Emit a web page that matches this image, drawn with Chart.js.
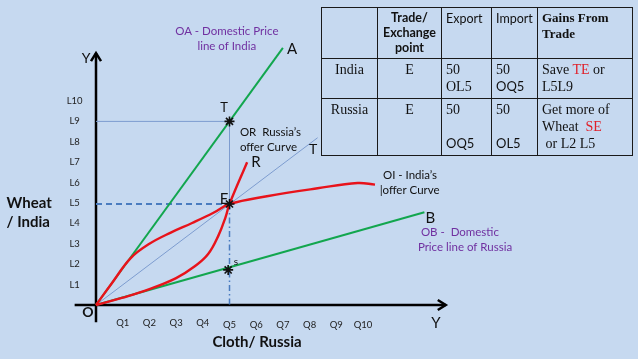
<!DOCTYPE html>
<html>
<head>
<meta charset="utf-8">
<script src="https://cdn.jsdelivr.net/npm/chart.js@4/dist/chart.umd.min.js"></script>
<style>
  html, body { margin:0; padding:0; background:#c6d9f0; }
  #wrap { position:relative; width:638px; height:359px; overflow:hidden; background:#c6d9f0; }
  canvas { position:absolute; left:0; top:0; }
  table { position:absolute; left:321px; top:7px; border-collapse:collapse; width:312px; height:148px; font-family:"Liberation Serif", serif; font-size:14px; color:#111; }
  td { border:1.6px solid #1a1a1a; vertical-align:top; padding:2px 4px; line-height:17px; }
  .h { font-family:Lato, sans-serif; font-size:12.5px; }
  .hb { font-family:Lato, sans-serif; font-weight:bold; font-size:12.5px; text-align:center; line-height:15px; }
  .gs { font-weight:bold; font-size:13px; line-height:16px; }
  .c { text-align:center; }
  .sans { font-family:Lato, sans-serif; font-size:13px; }
  .red { color:#e0202a; }
</style>
</head>
<body>
<div id="wrap">
<canvas id="c" width="638" height="359"></canvas>
<table>
  <tr style="height:51px">
    <td style="width:47px"></td>
    <td class="hb" style="width:55px">Trade/<br>Exchange<br>point</td>
    <td class="h" style="width:41px">Export</td>
    <td class="h" style="width:37px">Import</td>
    <td class="gs">Gains From<br>Trade</td>
  </tr>
  <tr style="height:40px">
    <td class="c">India</td>
    <td class="c">E</td>
    <td>50<br>OL5</td>
    <td>50<br><span class="sans">OQ5</span></td>
    <td>Save <span class="red">TE</span> or<br>L5L9</td>
  </tr>
  <tr style="height:57px">
    <td class="c">Russia</td>
    <td class="c">E</td>
    <td>50<br>&nbsp;<br><span class="sans">OQ5</span></td>
    <td>50<br>&nbsp;<br><span class="sans">OL5</span></td>
    <td>Get more of<br>Wheat&nbsp; <span class="red">SE</span><br>&nbsp;or L2 L5</td>
  </tr>
</table>
</div>
<script>
// ---- data (units: Q for cloth, L for wheat) ----
const qLabels = ['Q1','Q2','Q3','Q4','Q5','Q6','Q7','Q8','Q9','Q10'];
const lLabels = ['L1','L2','L3','L4','L5','L6','L7','L8','L9','L10'];

const oaX = [0, 7.0];   const oaY = [0, 12.6];   // OA domestic price line of India
const obX = [0, 12.3];  const obY = [0, 4.55];   // OB domestic price line of Russia
const otX = [0, 8.3];   const otY = [0, 8.2];    // OT terms of trade
const oiX = [0, 0.6, 1.3, 2.0, 2.8, 3.6, 4.4, 5.0, 6.4, 8.3, 9.8, 10.45]; // OI India's offer curve
const oiY = [0, 1.08, 2.3, 3.0, 3.55, 4.02, 4.52, 4.95, 5.33, 5.72, 5.98, 5.9];
const orX = [0, 1.0, 2.0, 3.0, 3.7, 4.2, 4.6, 4.85, 5.0, 5.66]; // OR Russia's offer curve
const orY = [0, 0.36, 0.78, 1.32, 1.9, 2.5, 3.45, 4.3, 4.95, 7.0];
const guideX = [0, 5, 5];   const guideY = [9, 9, 4.95];  // L9 -> T -> E
const dashHX = [0, 5];      const dashHY = [4.95, 4.95];  // L5 -> E
const dashVX = [5, 5];      const dashVY = [4.95, 0];     // E -> Q5
const starX = [5, 5, 4.95]; const starY = [9, 4.95, 1.72]; // T, E, S

const pts = (xs, ys) => xs.map((x, i) => ({x, y: ys[i]}));

const GREEN = '#12a64e', RED = '#e8131b', THIN = '#7d9ccf', DASH = '#4a7cbf';

const notes = [
  {t:'Y', x:-0.37, y:12.1, f:'14px Lato', c:'#111', a:'center'},
  {t:'Y', x:12.73, y:-0.9, f:'15px Lato', c:'#111', a:'center'},
  {t:'O', x:-0.3, y:-0.36, f:'bold 14px Lato', c:'#111', a:'center'},
  {t:'A', x:7.15, y:12.55, f:'15px Lato', c:'#111', a:'left'},
  {t:'T', x:4.8, y:9.66, f:'13px Lato', c:'#111', a:'center'},
  {t:'T', x:8.13, y:7.6, f:'14px Lato', c:'#111', a:'center'},
  {t:'R', x:5.99, y:7.0, f:'15px Lato', c:'#111', a:'center'},
  {t:'E', x:4.8, y:5.2, f:'15px Lato', c:'#111', a:'center'},
  {t:'s', x:5.24, y:2.1, f:'10px Lato', c:'#111', a:'center'},
  {t:'B', x:12.52, y:4.26, f:'15px Lato', c:'#111', a:'center'},
  {t:'OR  Russia\u2019s', x:5.39, y:8.48, f:'11.5px Lato', c:'#111', a:'left'},
  {t:'offer Curve', x:5.39, y:7.75, f:'11.5px Lato', c:'#111', a:'left'},
  {t:'OI - India\u2019s', x:11.76, y:6.37, f:'11.5px Lato', c:'#111', a:'center'},
  {t:'offer Curve', x:11.8, y:5.64, f:'11.5px Lato', c:'#111', a:'center'},
  {t:'|', x:10.68, y:5.64, f:'12px Lato', c:'#111', a:'center'},
  {t:'OA - Domestic Price', x:4.9, y:13.43, f:'11.5px Lato', c:'#7030a0', a:'center'},
  {t:'line of India', x:4.9, y:12.7, f:'11.5px Lato', c:'#7030a0', a:'center'},
  {t:'OB -  Domestic', x:13.63, y:3.58, f:'11.5px Lato', c:'#7030a0', a:'center'},
  {t:'Price line of Russia', x:13.82, y:2.84, f:'11.5px Lato', c:'#7030a0', a:'center'},
  {t:'Wheat', x:-3.35, y:5.0, f:'bold 15px Lato', c:'#111', a:'left'},
  {t:'/ India', x:-3.35, y:4.07, f:'bold 15px Lato', c:'#111', a:'left'},
  {t:'Cloth/ Russia', x:6.03, y:-1.81, f:'bold 15px Lato', c:'#111', a:'center'}
];

const overlay = {
  id: 'overlay',
  beforeDatasetsDraw(chart) {
    const {ctx, scales:{x, y}} = chart;
    ctx.save();
    ctx.strokeStyle = '#000';
    ctx.lineWidth = 2.5;
    ctx.lineCap = 'butt';
    const x0 = x.getPixelForValue(0), y0 = y.getPixelForValue(0);
    const yTop = y.getPixelForValue(12.35), yBot = y.getPixelForValue(-0.85);
    ctx.beginPath(); ctx.moveTo(x0, yBot); ctx.lineTo(x0, yTop); ctx.stroke();
    ctx.beginPath(); ctx.moveTo(x0 - 5, yTop + 8); ctx.lineTo(x0, yTop); ctx.lineTo(x0 + 5, yTop + 8); ctx.stroke();
    const xL = x.getPixelForValue(-0.8), xR = x.getPixelForValue(13.1);
    ctx.beginPath(); ctx.moveTo(xL, y0); ctx.lineTo(xR, y0); ctx.stroke();
    ctx.beginPath(); ctx.moveTo(xR - 8, y0 - 5); ctx.lineTo(xR, y0); ctx.lineTo(xR - 8, y0 + 5); ctx.stroke();
    ctx.restore();
  },
  afterDatasetsDraw(chart) {
    const {ctx, scales:{x, y}} = chart;
    ctx.save();
    ctx.textBaseline = 'middle';
    ctx.fillStyle = '#222';
    ctx.font = '9.5px Lato';
    ctx.textAlign = 'center';
    lLabels.forEach((l, i) => ctx.fillText(l, x.getPixelForValue(-0.8), y.getPixelForValue(i + 1)));
    qLabels.forEach((q, i) => ctx.fillText(q, x.getPixelForValue(i + 1), y.getPixelForValue(i < 4 ? -0.88 : -0.98)));
    notes.forEach(n => {
      ctx.font = n.f; ctx.fillStyle = n.c; ctx.textAlign = n.a;
      ctx.fillText(n.t, x.getPixelForValue(n.x), y.getPixelForValue(n.y));
    });
    ctx.restore();
  }
};

const line = (data, color, width, extra) => Object.assign({
  data, borderColor: color, borderWidth: width, showLine: true, pointRadius: 0, fill: false, tension: 0
}, extra || {});

new Chart(document.getElementById('c'), {
  type: 'scatter',
  data: {
    datasets: [
      {data: pts(starX, starY), pointStyle: 'star', pointRadius: 5, borderColor: '#111', borderWidth: 1.6, showLine: false},
      line(pts(orX, orY), RED, 2.4, {tension: 0.4}),
      line(pts(oiX, oiY), RED, 2.4, {tension: 0.4}),
      line(pts(oaX, oaY), GREEN, 2),
      line(pts(obX, obY), GREEN, 2),
      line(pts(otX, otY), THIN, 1),
      line(pts(guideX, guideY), THIN, 1),
      line(pts(dashHX, dashHY), DASH, 2, {borderDash: [6, 4]}),
      line(pts(dashVX, dashVY), DASH, 1.5, {borderDash: [6, 3, 1.5, 3]})
    ]
  },
  options: {
    responsive: false,
    animation: false,
    layout: {padding: 0, autoPadding: false},
    plugins: {legend: {display: false}, tooltip: {enabled: false}},
    scales: {
      x: {type: 'linear', display: false, min: -96 / 26.7, max: 542 / 26.7},
      y: {type: 'linear', display: false, min: -54 / 20.4, max: 305 / 20.4}
    }
  },
  plugins: [overlay]
});
</script>
</body>
</html>
